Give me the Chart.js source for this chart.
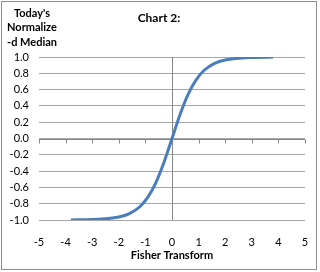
<!DOCTYPE html>
<html>
<head>
<meta charset="utf-8">
<script src="https://cdn.jsdelivr.net/npm/chart.js@4.4.1/dist/chart.umd.min.js"></script>
<style>
  html, body { margin: 0; padding: 0; background: #fff; }
  #wrap { width: 320px; height: 272px; }
</style>
</head>
<body>
<div id="wrap"><canvas id="grafico" width="320" height="272"></canvas></div>
<script>
// dados
const fisherX = [-3.8, -3.0, -2.0, -1.6, -1.2, -0.9, -0.6, -0.3, 0, 0.3, 0.6, 0.9, 1.2, 1.6, 2.0, 3.0, 3.8];
const medianaY = [-0.999, -0.995, -0.964, -0.922, -0.834, -0.716, -0.537, -0.291, 0, 0.291, 0.537, 0.716, 0.834, 0.922, 0.964, 0.995, 0.999];
const tituloGrafico = "Chart 2:";
const tituloEixoY = ["Today's", "Normalize", "-d Median"];
const tituloEixoX = "Fisher Transform";

const fonte = "Lato, 'Open Sans', sans-serif";

// textos, moldura e eixos que o Excel desenha
const extras = {
  id: 'extras',
  beforeDatasetsDraw(chart) {
    const ctx = chart.ctx;
    const x = chart.scales.x, y = chart.scales.y;
    const area = chart.chartArea;
    ctx.save();
    // eixo vertical em x=0
    ctx.strokeStyle = '#868686';
    ctx.lineWidth = 1;
    const x0 = Math.round(x.getPixelForValue(0)) + 0.5;
    ctx.beginPath();
    ctx.moveTo(x0, area.top);
    ctx.lineTo(x0, area.bottom);
    ctx.stroke();
    // eixo horizontal em y=0 com marcas
    const y0 = Math.round(y.getPixelForValue(0)) + 0.5;
    ctx.beginPath();
    ctx.moveTo(area.left, y0);
    ctx.lineTo(area.right, y0);
    for (let v = -5; v <= 5; v++) {
      const px = Math.round(x.getPixelForValue(v)) + 0.5;
      ctx.moveTo(px, y0);
      ctx.lineTo(px, y0 + 4);
    }
    ctx.stroke();
    ctx.restore();
  },
  afterDraw(chart) {
    const ctx = chart.ctx;
    ctx.save();
    ctx.strokeStyle = '#8c8c8c';
    ctx.lineWidth = 1;
    ctx.strokeRect(1.5, 1.5, 315, 268);
    ctx.fillStyle = '#000';
    ctx.textAlign = 'center';
    ctx.textBaseline = 'middle';
    ctx.font = "bold 12px " + fonte;
    ctx.fillText(tituloGrafico, 159, 18);
    ctx.font = "bold 11px " + fonte;
    tituloEixoY.forEach((t, i) => ctx.fillText(t, 32, 13 + i * 14.5));
    ctx.fillText(tituloEixoX, 172, 255);
    ctx.restore();
  }
};

new Chart(document.getElementById('grafico'), {
  type: 'scatter',
  data: {
    datasets: [{
      data: fisherX.map((v, i) => ({ x: v, y: medianaY[i] })),
      showLine: true,
      borderColor: '#4a7ebb',
      borderWidth: 3,
      pointRadius: 0,
      cubicInterpolationMode: 'monotone'
    }]
  },
  options: {
    responsive: false,
    animation: false,
    layout: { padding: { top: 57, right: 0, bottom: 0, left: 0 } },
    plugins: { legend: { display: false }, tooltip: { enabled: false } },
    scales: {
      x: {
        min: -5, max: 5,
        afterFit: s => { s.height = 52; s.paddingRight = 15; s.paddingLeft = 0; },
        border: { display: false },
        grid: { display: false, drawTicks: false },
        ticks: { stepSize: 1, padding: 16, color: '#000', font: { family: fonte, size: 11 } }
      },
      y: {
        min: -1, max: 1,
        afterFit: s => { s.width = 39; },
        border: { display: false },
        grid: { color: '#a6a6a6', drawTicks: false },
        ticks: {
          stepSize: 0.2, padding: 10, color: '#000',
          font: { family: fonte, size: 11 },
          callback: v => Number(v).toFixed(1)
        }
      }
    }
  },
  plugins: [extras]
});
</script>
</body>
</html>
